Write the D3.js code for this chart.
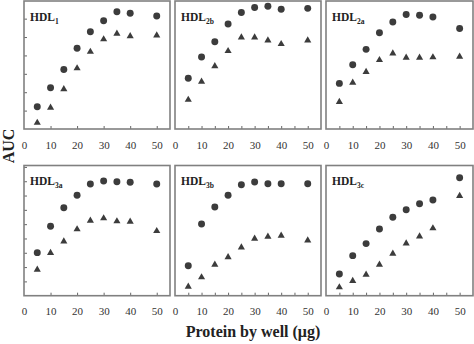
<!DOCTYPE html>
<html><head><meta charset="utf-8">
<script src="https://cdn.jsdelivr.net/npm/d3@7"></script>
<style>body{margin:0;background:#fff}svg{display:block}</style>
</head><body>
<script>
// ---- data ----
const doses = [5, 10, 15, 20, 25, 30, 35, 40, 50];
const panelNames = ["HDL", "HDL", "HDL", "HDL", "HDL", "HDL"];
const panelSubs = ["1", "2b", "2a", "3a", "3b", "3c"];
const xTickLabels = [0, 10, 20, 30, 40, 50];

const circles_HDL1  = [1.21, 2.24, 3.24, 4.39, 5.29, 5.89, 6.38, 6.29, 6.14];
const triangles_HDL1 = [0.34, 1.16, 2.17, 3.30, 4.20, 4.88, 5.18, 5.05, 5.09];
const circles_HDL2b  = [2.76, 3.91, 4.74, 5.71, 6.34, 6.61, 6.68, 6.51, 6.56];
const triangles_HDL2b = [1.59, 2.57, 3.42, 4.24, 4.98, 4.98, 4.82, 4.62, 4.82];
const circles_HDL2a  = [2.48, 3.49, 4.33, 5.23, 5.82, 6.23, 6.18, 6.09, 5.47];
const triangles_HDL2a = [1.47, 2.52, 3.10, 3.75, 4.11, 3.88, 3.88, 3.90, 3.93];
const circles_HDL3a  = [3.01, 4.85, 6.15, 7.02, 7.81, 8.02, 7.97, 7.93, 7.81];
const triangles_HDL3a = [1.82, 2.99, 3.80, 4.64, 5.24, 5.41, 5.20, 5.17, 4.52];
const circles_HDL3b  = [2.10, 5.01, 6.20, 7.02, 7.76, 7.95, 7.83, 7.83, 7.83];
const triangles_HDL3b = [0.63, 1.29, 2.17, 2.69, 3.38, 3.99, 4.13, 4.20, 3.87];
const circles_HDL3c  = [1.52, 2.80, 3.64, 4.66, 5.48, 6.01, 6.43, 6.69, 8.25];
const triangles_HDL3c = [0.59, 1.03, 1.47, 2.17, 2.94, 3.66, 4.15, 4.71, 6.97];

const circleSeries = [circles_HDL1, circles_HDL2b, circles_HDL2a, circles_HDL3a, circles_HDL3b, circles_HDL3c];
const triangleSeries = [triangles_HDL1, triangles_HDL2b, triangles_HDL2a, triangles_HDL3a, triangles_HDL3b, triangles_HDL3c];

// ---- layout ----
const W = 474, H = 344;
const cols = [[24, 170], [175, 321], [326, 473]];
const rows = [[1, 129], [165.5, 295.7]];
const rowYMax = [6.96, 9.1];
const xMax = 55;
const yTickPanels = {0: d3.range(1, 7), 3: d3.range(1, 10)};
const xTickStep = [10, 5, 5, 10, 5, 5];

const svg = d3.select("body").append("svg").attr("width", W).attr("height", H)
  .style("font-family", "'Liberation Serif','Times New Roman',serif");

const markColor = "#3c3c3c";
const borderColor = "#808080";

panelSubs.forEach((sub, i) => {
  const r = Math.floor(i / 3), c = i % 3;
  const [x0, x1] = cols[c], [y0, y1] = rows[r];
  const x = d3.scaleLinear().domain([0, xMax]).range([x0, x1]);
  const y = d3.scaleLinear().domain([0, rowYMax[r]]).range([y1, y0]);
  const g = svg.append("g");

  const tickVals = d3.range(xTickStep[i], 51, xTickStep[i]);
  g.append("g").attr("transform", `translate(0,${y1})`)
    .call(d3.axisBottom(x).tickValues(tickVals).tickSizeInner(-3).tickSizeOuter(0).tickFormat(""))
    .call(a => a.select(".domain").remove())
    .call(a => a.selectAll("line").attr("stroke", "#666"));

  g.append("g").attr("transform", `translate(0,${y1})`)
    .call(d3.axisBottom(x).tickValues(xTickLabels).tickSize(0).tickPadding(12))
    .call(a => a.select(".domain").remove())
    .call(a => a.selectAll("text").attr("font-size", 11).attr("fill", "#333")
      .style("font-family", "'Liberation Serif','Times New Roman',serif"));

  if (yTickPanels[i]) {
    g.append("g").attr("transform", `translate(${x0},0)`)
      .call(d3.axisLeft(y).tickValues(yTickPanels[i]).tickSizeInner(-3).tickSizeOuter(0).tickFormat(""))
      .call(a => a.select(".domain").remove())
      .call(a => a.selectAll("line").attr("stroke", "#666"));
  }

  g.append("rect").attr("x", x0).attr("y", y0).attr("width", x1 - x0).attr("height", y1 - y0)
    .attr("fill", "none").attr("stroke", borderColor).attr("stroke-width", 1.6);

  const t = g.append("text").attr("x", x0 + 6).attr("y", y0 + 19.5)
    .attr("font-size", 11.5).attr("fill", "#222").attr("font-weight", "bold");
  t.append("tspan").text(panelNames[i]);
  t.append("tspan").attr("font-size", 7.5).attr("dy", 3).text(sub);

  g.selectAll("path.c").data(circleSeries[i]).join("path").attr("class", "c")
    .attr("d", d3.symbol(d3.symbolCircle, 38))
    .attr("transform", (d, k) => `translate(${x(doses[k])},${y(d)})`)
    .attr("fill", markColor);
  g.selectAll("path.t").data(triangleSeries[i]).join("path").attr("class", "t")
    .attr("d", d3.symbol(d3.symbolTriangle, 22))
    .attr("transform", (d, k) => `translate(${x(doses[k])},${y(d)})`)
    .attr("fill", markColor);
});

svg.append("text").attr("x", 253).attr("y", 337).attr("text-anchor", "middle")
  .attr("font-size", 16).attr("font-weight", "bold").attr("fill", "#222")
  .text("Protein by well (μg)");
svg.append("text").attr("transform", "translate(14,146) rotate(-90)").attr("text-anchor", "middle")
  .attr("font-size", 16).attr("font-weight", "bold").attr("fill", "#222")
  .text("AUC");
</script>
</body></html>
